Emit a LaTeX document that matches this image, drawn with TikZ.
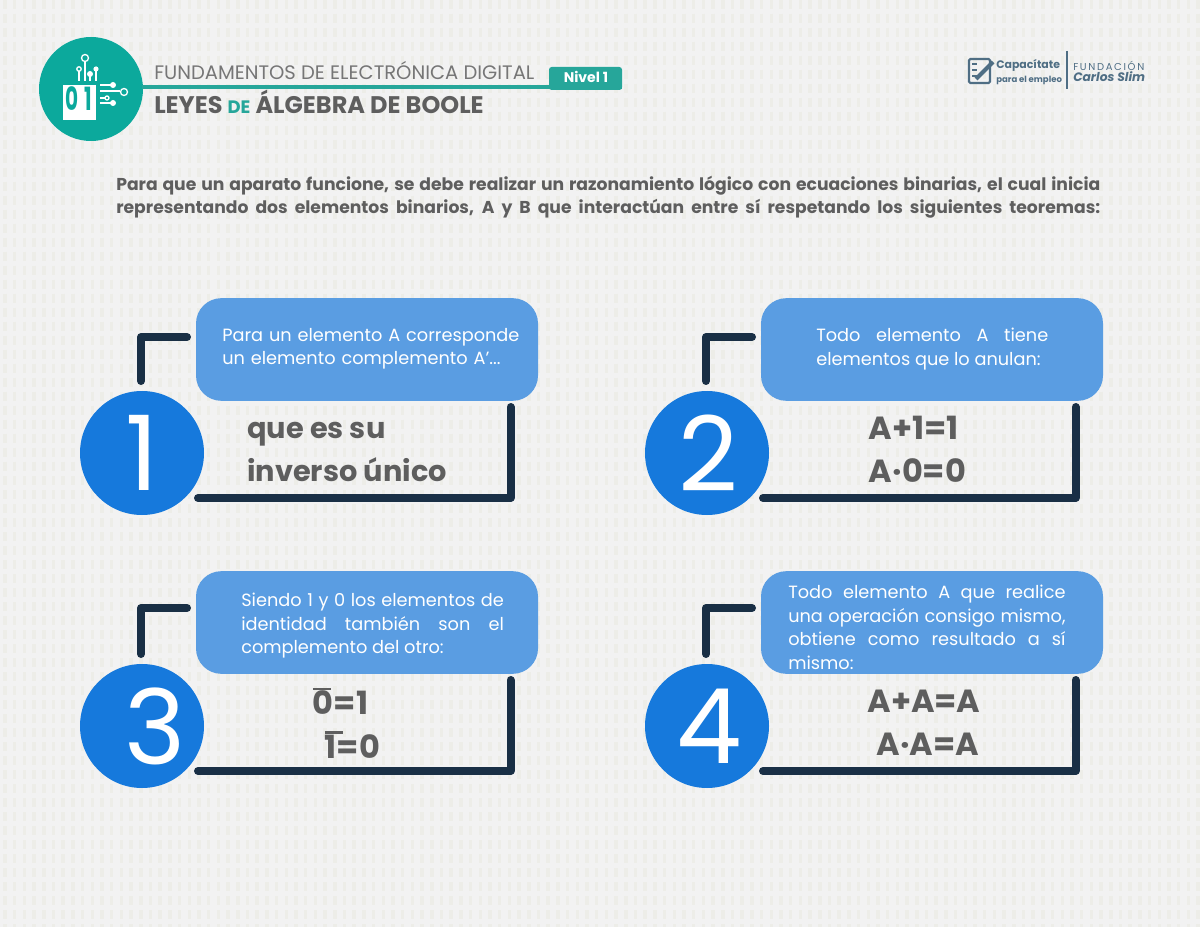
\documentclass[tikz,border=0pt]{standalone}
\usepackage{fontspec}
\setmainfont{Poppins}
\definecolor{paper}{HTML}{F2F2F2}
\definecolor{speck}{HTML}{EDEDE8}
\definecolor{teal1}{HTML}{0CA99C}
\definecolor{teal2}{HTML}{26A69A}
\definecolor{navy}{HTML}{192F45}
\definecolor{sky}{HTML}{5A9DE2}
\definecolor{royal}{HTML}{1679DC}
\definecolor{ink}{HTML}{5E5E5E}
\definecolor{logo}{HTML}{4F6E84}
\tikzstyle{disc}=[circle,fill=royal,minimum size=93pt,inner sep=0pt]
\tikzstyle{digit}=[text=white,inner sep=0pt,font=\fontsize{78}{78}\selectfont]
\tikzstyle{card}=[rectangle,rounded corners=19pt,fill=sky,minimum width=256.5pt,minimum height=77pt,inner sep=0pt]
\tikzstyle{bracket}=[navy,line width=6pt,line cap=round,line join=round]
\tikzstyle{cardtext}=[text=white,inner sep=0pt,align=justify,font=\fontsize{13.3}{17.6}\selectfont]
\tikzstyle{answer}=[text=ink,inner sep=0pt,align=center,font=\bfseries\fontsize{24}{32.5}\selectfont]
\tikzstyle{pin}=[white,line width=1pt]
\tikzstyle{chip}=[text=teal1,inner sep=0pt,yscale=1.6,transform shape,font=\bfseries\fontsize{15}{15}\selectfont]
\newcommand{\barred}[1]{\leavevmode\rlap{\raisebox{0.77em}{\rule{0.55em}{1.8pt}}}#1}
\begin{document}
\begin{tikzpicture}[x=0.75pt,y=-0.75pt]
\useasboundingbox (0,0) rectangle (1200,927);
\fill[paper] (0,0) rectangle (1200,927);
% speckled paper
\foreach \x in {5,14.7,...,1200}
  \draw[speck,line width=2.6pt,dash pattern=on 6.8pt off 3.7pt] (\x,0) -- (\x,927);

% header
\node [circle,fill=teal1,minimum size=78pt,inner sep=0pt] (badge) at (91,89) {};
\fill[white] (63,85) rectangle (96,120);
\node [chip] (zero) at (72,99) {0};
\node [chip] (one) at (88,99) {1};
\draw[pin] (85,81) -- (85,61);
\draw[pin] (79,81) -- (79,71);
\draw[pin] (90,81) -- (90,75);
\draw[pin] (96,81) -- (96,71);
\draw[pin] (100,85) -- (113,85);
\draw[pin] (100,91) -- (120,91);
\draw[pin] (100,98) -- (105,98);
\draw[pin] (100,103) -- (113,103);
\draw[pin] (85,58) circle (3.5);
\draw[pin] (79,69) circle (2.2);
\draw[pin] (124,92) circle (3.5);
\draw[pin] (107,98) circle (2);
\fill[white] (90,74) circle (3) (96,69) circle (2.6) (113,85) circle (3) (113,103) circle (3);

\node [anchor=west,inner sep=0pt,text=ink!85,font=\fontsize{14.65}{14.65}\selectfont] (course) at (154,70.5) {FUNDAMENTOS DE ELECTRÓNICA DIGITAL};
\fill[teal2,rounded corners=2pt] (549,90) -- (549,67) -- (622,67) -- (622,90) -- cycle;
\draw[teal2,line width=3.6pt] (badge.east) ++(-1,-2) -- (622,87);
\node [text=white,inner sep=0pt,font=\bfseries\fontsize{10.5}{10.5}\selectfont] (level) at (586,77) {Nivel 1};
\node [anchor=west,inner sep=0pt,text=ink,font=\bfseries\fontsize{18}{18}\selectfont] (topic) at (154,102) {LEYES {\color{teal2}\fontsize{13.5}{13.5}\selectfont DE} ÁLGEBRA DE BOOLE};

% logo
\draw[logo,line width=1.6pt,rounded corners=1pt] (969,59) -- (969,83) -- (990,83) -- (990,59) -- cycle;
\draw[logo,line width=3pt] (976,79) -- (993,62);
\foreach \y in {64,70,76}
  \draw[logo,line width=1.2pt] (972,\y) -- (977,\y);
\node [anchor=west,inner sep=0pt,text=logo,font=\bfseries\fontsize{8.2}{8.2}\selectfont] (logoa) at (996,65) {Capacítate};
\node [anchor=west,inner sep=0pt,text=logo,font=\bfseries\fontsize{6.4}{6.4}\selectfont] (logob) at (996,80) {para el empleo};
\draw[logo,line width=0.9pt] (1067,51) -- (1067,89);
\node [anchor=west,inner sep=0pt,text=logo,font=\fontsize{7.5}{7.5}\selectfont] (logoc) at (1073,66) {F\,U\,N\,D\,A\,C\,I\,Ó\,N};
\node [anchor=west,inner sep=0pt,text=logo,font=\itshape\bfseries\fontsize{9.2}{9.2}\selectfont] (logod) at (1073,77) {Carlos Slim};

% intro
\node [anchor=north west,inner sep=0pt,text=ink,align=left,font=\bfseries\fontsize{12.9}{17.25}\selectfont] (intro) at (116,176) {\makebox[738pt][s]{Para que un aparato funcione, se debe realizar un razonamiento lógico con ecuaciones binarias, el cual inicia}\\\makebox[738pt][s]{representando dos elementos binarios, A y B que interactúan entre sí respetando los siguientes teoremas:}};

% the four cards
\foreach \n/\dx/\dy/\ty/\ox in {1/0/0/337/0,2/565/0/337/1.5,3/0/273/608/13,4/565/273/608/2} {
  \node [card] (b\n) at (367+\dx,349.5+\dy) {};
  \node [disc] (c\n) at (142+\dx,453+\dy) {};
  \node [digit] (d\n) at (142+\dx+\ox,453+\dy) {\n};
  \coordinate (ta\n) at (141+\dx,381+\dy);
  \coordinate (tb\n) at (187+\dx,\ty);
  \coordinate (ua\n) at (198+\dx,498+\dy);
  \coordinate (ub\n) at (510.5+\dx,407+\dy);
  \draw[bracket] (ta\n) |- (tb\n);
  \draw[bracket] (ua\n) -| (ub\n);
}
\node [cardtext,anchor=north west,text width=225pt,align=left] (t1) at (222,328) {Para un elemento A corresponde\\un elemento complemento A’...};
\node [cardtext,anchor=north west,text width=174pt] (t2) at (816,328) {Todo elemento A tiene\linebreak elementos que lo anulan:};
\node [cardtext,anchor=north west,text width=197pt] (t3) at (241,593) {Siendo 1 y 0 los elementos de\linebreak identidad también son el\linebreak complemento del otro:};
\node [cardtext,anchor=north west,text width=208pt] (t4) at (788,585) {Todo elemento A que realice\linebreak una operación consigo mismo,\linebreak obtiene como resultado a sí\linebreak mismo:};

\node [answer,anchor=west,align=left,font=\bfseries\fontsize{21.6}{32.5}\selectfont] (r1) at (247,452) {que es su\\inverso único};
\node [answer] (r2) at (915.5,449) {A+1=1\hspace*{3pt}\\\hspace*{3pt}A·0=0};
\node [answer] (r3) at (346.5,723) {\barred{0}=1\hspace*{9pt}\\\hspace*{9pt}\barred{1}=0};
\node [answer] (r4) at (926,723) {A+A=A\hspace*{3pt}\\\hspace*{3pt}A·A=A};
\end{tikzpicture}
\end{document}
